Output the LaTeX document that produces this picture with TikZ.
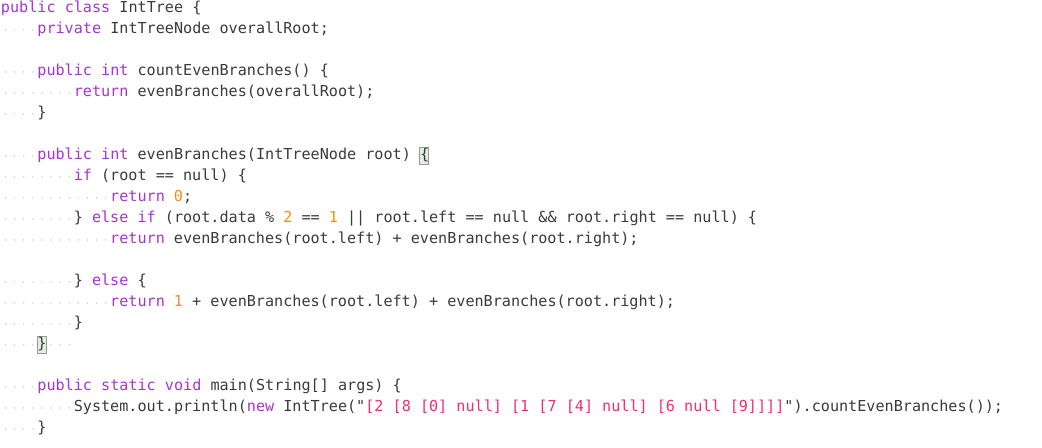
\documentclass[tikz,border=0pt]{standalone}
\usepackage{fontspec}
\setmonofont{DejaVu Sans Mono}
\definecolor{kw}{HTML}{A535CF}
\definecolor{num}{HTML}{F28C1A}
\definecolor{str}{HTML}{F0306E}
\definecolor{txt}{HTML}{3A3A3A}
\definecolor{hl}{HTML}{E2EEDF}
\newcommand\K[1]{\textcolor{kw}{#1}}
\newcommand\Nm[1]{\textcolor{num}{#1}}
\newcommand\St[1]{\textcolor{str}{#1}}
\tikzset{code/.style={anchor=base west,inner sep=0pt,outer sep=0pt,text=txt,font=\ttfamily\fontsize{11.35}{13}\selectfont},
  wsdot/.style={fill=black!25,draw=none},
  hlbox/.style={fill=hl,draw=black!40,line width=0.5pt}}
\begin{document}
\begin{tikzpicture}[x=0.75pt,y=-0.75pt]
\useasboundingbox (0,0) rectangle (1042,448);
\def\cw{9.1}
% highlight boxes
\fill[hlbox] ({1+46*\cw-0.5},{13+7*21-13}) rectangle ++(9.6,17);
\fill[hlbox] ({1+4*\cw-0.5},{13+16*21-13}) rectangle ++(9.6,17);
% indentation dots: line/indent
\foreach \ln/\ind in {2/4,4/4,5/8,6/4,8/4,9/8,10/12,11/8,12/12,14/8,15/12,16/8,17/4,19/4,20/8,21/4}{
  \foreach \i in {1,...,\ind}{
    \fill[wsdot] ({1+(\i-0.5)*\cw},{13+(\ln-1)*21-4}) circle (0.75);
  }
}
\foreach \i in {6,7,8}{\fill[wsdot] ({1+(\i-0.5)*\cw},{13+16*21-4}) circle (0.75);}
\newcommand\Ln[3]{\node[code] (l#1) at ({1+#2*\cw},{13+(#1-1)*21}) {#3};}
\Ln{1}{0}{\K{public} \K{class} IntTree \{}
\Ln{2}{4}{\K{private} IntTreeNode overallRoot;}
\Ln{4}{4}{\K{public} \K{int} countEvenBranches() \{}
\Ln{5}{8}{\K{return} evenBranches(overallRoot);}
\Ln{6}{4}{\}}
\Ln{8}{4}{\K{public} \K{int} evenBranches(IntTreeNode root) \{}
\Ln{9}{8}{\K{if} (root == null) \{}
\Ln{10}{12}{\K{return} \Nm{0};}
\Ln{11}{8}{\} \K{else} \K{if} (root.data \% \Nm{2} == \Nm{1} || root.left == null \&\& root.right == null) \{}
\Ln{12}{12}{\K{return} evenBranches(root.left) + evenBranches(root.right);}
\Ln{14}{8}{\} \K{else} \{}
\Ln{15}{12}{\K{return} \Nm{1} + evenBranches(root.left) + evenBranches(root.right);}
\Ln{16}{8}{\}}
\Ln{17}{4}{\}}
\Ln{19}{4}{\K{public} \K{static} \K{void} main(String[] args) \{}
\Ln{20}{8}{System.out.println(\K{new} IntTree("\St{[2 [8 [0] null] [1 [7 [4] null] [6 null [9]]]]}").countEvenBranches());}
\Ln{21}{4}{\}}
\end{tikzpicture}
\end{document}
